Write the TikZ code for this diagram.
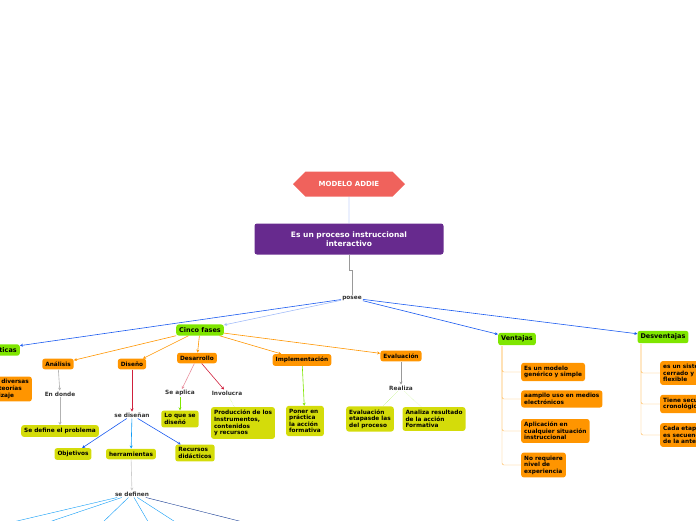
\documentclass[tikz,border=0pt]{standalone}
\usepackage{fontspec}
\setmainfont{DejaVu Sans}
\usetikzlibrary{shapes.geometric,shapes.symbols,arrows.meta}
\definecolor{addie}{HTML}{F0625C}
\definecolor{purp}{HTML}{672A8E}
\definecolor{lime}{HTML}{7FE600}
\definecolor{orng}{HTML}{FF9500}
\definecolor{yell}{HTML}{D4DC0A}
\definecolor{blu}{HTML}{1A5AF0}
\definecolor{crim}{HTML}{D0203C}
\tikzset{
  box/.style={rounded corners=2.5pt, font=\bfseries\fontsize{5.8}{6.6}\selectfont, inner sep=3pt, align=left},
  fase/.style={box, fill=orng},
  hoja/.style={box, fill=yell},
  verde/.style={box, fill=lime, font=\bfseries\fontsize{6.5}{7}\selectfont},
  conn/.style={font=\bfseries\fontsize{5.8}{6.6}\selectfont, text=black!80, inner sep=1pt},
  ar/.style={-{Stealth[length=3pt,width=3pt]}, semithick}
}
\begin{document}
\begin{tikzpicture}[x=1pt,y=-1pt]
\useasboundingbox (0,0) rectangle (696,520);
\clip (0,0) rectangle (696,520);

% cabecera
\node[signal, signal to=west and east, fill=addie, text=white, minimum width=112pt, minimum height=25pt,
  font=\bfseries\fontsize{7}{8}\selectfont] (addie) at (349,184) {MODELO ADDIE};
\node[box, fill=purp, text=white, minimum width=189pt, minimum height=31pt, align=center,
  font=\bfseries\fontsize{7.5}{9}\selectfont] (proc) at (349,239) {Es un proceso instruccional\\interactivo};
\node[conn] (posee) at (352,298) {posee};
\draw[blu!70] (addie) -- (proc);
\draw[black!40] (proc.south) -- ++(0,15) -- ++(3,0) -- (posee);

% primer nivel
\node[verde] (cinco) at (200,330) {Cinco fases};
\node[verde, anchor=east] (carac) at (20,350) {Características};
\node[verde] (vent) at (517,339) {Ventajas};
\node[verde] (desv) at (663,337) {Desventajas};
\draw[ar, blu] (posee) -- (carac);
\draw[ar, blu!40] (posee) -- (cinco);
\draw[ar, blu] (posee) -- (vent);
\draw[ar, blu] (posee) -- (desv);

% fases
\node[fase] (anal) at (58,364) {Análisis};
\node[fase] (dise) at (132,364) {Diseño};
\node[fase] (desa) at (197,358) {Desarrollo};
\node[fase] (impl) at (302,360) {Implementación};
\node[fase] (eval) at (401,356) {Evaluación};
\node[fase, anchor=east] (teor) at (32,389) {Se basa en diversas\\clases por teorías\\del aprendizaje};
\foreach \f in {anal,dise,desa,impl,eval}
  \draw[ar, orng] (cinco) -- (\f);

% analisis
\node[conn] (dond) at (60,394) {En donde};
\node[hoja] (prob) at (60,431) {Se define el problema};
\draw[ar, black!30] (anal) -- (dond);
\draw[ar, black!30] (dond) -- (prob);

% diseño
\node[conn] (sedi) at (132,415) {se diseñan};
\node[hoja] (obje) at (73,454) {Objetivos};
\node[hoja] (herr) at (131,454) {herramientas};
\node[hoja] (recu) at (195,453) {Recursos\\didácticos};
\node[conn] (sedf) at (132,494) {se definen};
\draw[ar, crim] (dise) -- (sedi);
\draw[ar, blu] (sedi) -- (obje);
\draw[ar, blu!60!cyan] (sedi) -- (herr);
\draw[ar, blu] (sedi) -- (recu);
\draw[ar, black!20] (herr) -- (sedf);
\foreach \x/\c in {0/blu!60!cyan,40/blu!60!cyan,100/blu!60!cyan,150/blu!60!cyan,180/blu!60!cyan,255/blu!60!black}
  \draw[\c] (sedf) -- (\x,525);

% desarrollo
\node[conn] (apli) at (180,393) {Se aplica};
\node[conn] (invo) at (227,393) {Involucra};
\node[hoja] (loqu) at (180,419) {Lo que se\\ diseñó};
\node[hoja] (prod) at (243,423) {Producción de los\\Instrumentos,\\contenidos\\ y recursos};
\draw[ar, crim!50] (desa) -- (apli);
\draw[ar, crim] (desa) -- (invo);
\draw[ar, lime] (apli) -- (loqu);
\draw[lime!60, densely dotted] (invo) -- (prod);

% implementacion
\node[hoja] (pone) at (305,421) {Poner en\\práctica\\la acción\\formativa};
\draw[ar, lime] (impl) -- (pone);

% evaluacion
\node[conn] (real) at (401,388) {Realiza};
\node[hoja] (etap) at (370,419) {Evaluación\\ etapasde las\\del proceso};
\node[hoja] (resu) at (434,419) {Analiza resultado\\ de la acción\\Formativa};
\draw[ar, black!40] (eval) -- (real);
\draw[lime!60, densely dotted] (real) -- (etap);
\draw[lime!60, densely dotted] (real) -- (resu);

% ventajas
\node[fase, anchor=west] (v1) at (521,372) {Es un modelo\\genérico y simple};
\node[fase, anchor=west] (v2) at (521,399) {aampilo uso en medios\\electrónicos};
\node[fase, anchor=west] (v3) at (521,431) {Aplicación en\\cualquier situación\\instruccional};
\node[fase, anchor=west] (v4) at (521,465) {No requiere\\nivel de\\experiencia};
\foreach \v in {v1,v2,v3,v4}
  \draw[orng!70, rounded corners=2pt] (502,346) |- (\v.west);

% desventajas
\node[fase, anchor=west] (d1) at (660,373) {es un sistema\\cerrado y poco\\ flexible};
\node[fase, anchor=west] (d2) at (660,404) {Tiene secuencia\\ cronológica};
\node[fase, anchor=west] (d3) at (660,435) {Cada etapa\\es secuencial\\de la anterior};
\foreach \d in {d1,d2,d3}
  \draw[orng!70, rounded corners=2pt] (641,344) |- (\d.west);
\end{tikzpicture}
\end{document}
